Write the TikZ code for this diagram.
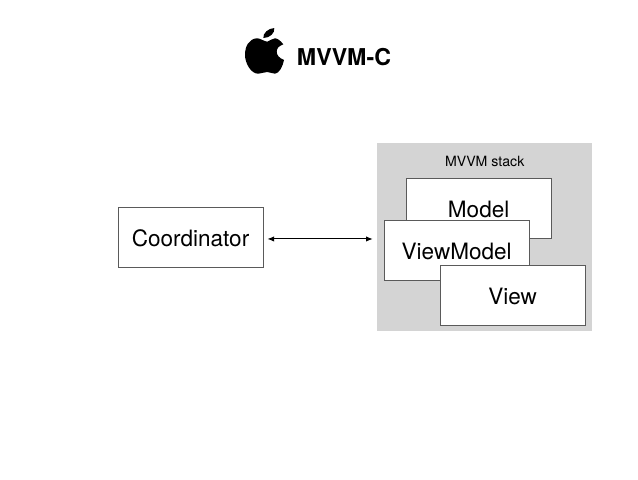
\documentclass[tikz,border=0pt]{standalone}
\usepackage{fontspec}
\setmainfont{TeX Gyre Heros}
\usetikzlibrary{arrows.meta,positioning}
\definecolor{stackgray}{RGB}{212,212,212}
\definecolor{boxline}{RGB}{90,90,90}

\begin{document}
\begin{tikzpicture}[
  x=0.75pt, y=-0.75pt,
  box/.style={draw=boxline, line width=0.6pt, fill=white, align=center, minimum width=108.75pt, minimum height=44.5pt, inner sep=0pt, text height=14.2pt, text depth=0pt, font=\fontsize{16.9}{20}\selectfont},
  stackbg/.style={fill=stackgray, minimum width=161.25pt, minimum height=141.5pt, inner sep=0pt},
  note/.style={align=center, inner sep=0pt, font=\fontsize{10.6}{13}\selectfont},
  title/.style={align=center, inner sep=0pt, font=\bfseries\fontsize{17.4}{20}\selectfont},
  arr/.style={{Latex[length=5pt,width=4pt]}-{Latex[length=5pt,width=4pt]}, line width=0.75pt, shorten <=3pt, shorten >=3pt}
]
\useasboundingbox (0,0) rectangle (638,479);

% apple logo
\fill[black] (267.3,41.7) .. controls (263,41) and (260,38) .. (256.7,38.3)
  .. controls (249,39) and (245,46) .. (245,55)
  .. controls (245,63) and (251,74) .. (258.3,73.7)
  .. controls (262,73.5) and (264,72) .. (267.3,72)
  .. controls (270,72) and (272,73.7) .. (275,73.7)
  .. controls (279,73.7) and (283,66) .. (284,60)
  .. controls (279,58) and (276.7,55) .. (276.7,51.7)
  .. controls (276.7,48) and (279,46) .. (283.3,44.3)
  .. controls (280,40) and (277,38.3) .. (275,38.3)
  .. controls (272,38.3) and (270,41) .. (267.3,41.7) -- cycle;
\fill[black] (263.3,38) .. controls (263,33) and (268,28.5) .. (274.3,28)
  .. controls (275,33) and (270,38) .. (263.3,38) -- cycle;

\node[title] (title) at (344,57) {MVVM-C};

\node[box] (coordinator) at (190.5,237.5) {Coordinator};

% stack on the right
\node[stackbg, right=85pt of coordinator.east, yshift=0.4pt] (stack) {};
\node[note, below=10pt of stack.north, xshift=0.2pt] (stacklabel) {MVVM stack};
\node[box, below right=27pt and 21.75pt of stack.north west] (model) {Model};
\node[box, below right=58.5pt and 5.25pt of stack.north west] (viewmodel) {ViewModel};
\node[box, below right=92.25pt and 47.25pt of stack.north west] (view) {View};

\draw[arr] ([yshift=-1.1pt]coordinator.east) -- ([yshift=-1.5pt]stack.west);

\end{tikzpicture}
\end{document}
